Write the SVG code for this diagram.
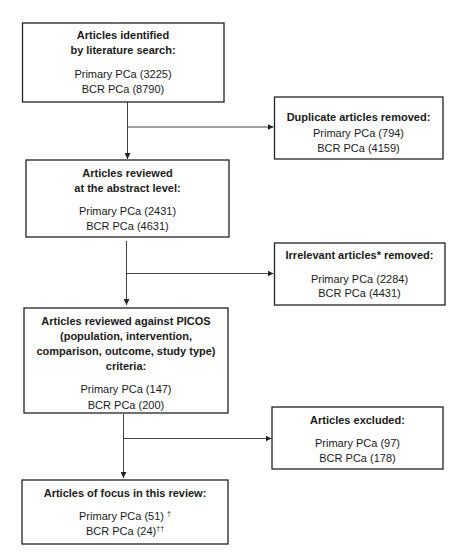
<svg xmlns="http://www.w3.org/2000/svg" width="474" height="556" viewBox="0 0 474 556">
<style>
.box{fill:#fff;stroke:#222;stroke-width:1.3}
.t{font-family:"Liberation Sans",Arial,sans-serif;font-size:11px;fill:#1a1a1a;text-anchor:middle}
.b{font-weight:bold}
.c{stroke:#444;stroke-width:1;fill:none;marker-end:url(#ah)}
.sup{font-size:7px}
</style>
<defs>
<marker id="ah" markerUnits="userSpaceOnUse" markerWidth="6" markerHeight="6" refX="6" refY="3" orient="auto">
<path d="M0,0 L6,3 L0,6 z" fill="#222"/>
</marker>
</defs>
<rect width="474" height="556" fill="#fff"/>
<g id="connectors">
<line class="c" x1="127.5" y1="102" x2="127.5" y2="159"/>
<line class="c" x1="127.5" y1="127" x2="273.5" y2="127"/>
<line class="c" x1="126.5" y1="241" x2="126.5" y2="305"/>
<line class="c" x1="126.5" y1="273.5" x2="273.5" y2="273.5"/>
<line class="c" x1="123.5" y1="414" x2="123.5" y2="478"/>
<line class="c" x1="123.5" y1="438.5" x2="271.5" y2="438.5"/>
</g>
<g id="n1">
<rect class="box" x="22.5" y="23" width="201.5" height="79"/>
<text class="t b" x="123" y="39">Articles identified</text>
<text class="t b" x="123" y="54">by literature search:</text>
<text class="t" x="123" y="78">Primary PCa (3225)</text>
<text class="t" x="123" y="93">BCR PCa (8790)</text>
</g>
<g id="n2">
<rect class="box" x="274.5" y="97" width="168.5" height="62"/>
<text class="t b" x="358.5" y="121">Duplicate articles removed:</text>
<text class="t" x="358.5" y="137">Primary PCa (794)</text>
<text class="t" x="358.5" y="152">BCR PCa (4159)</text>
</g>
<g id="n3">
<rect class="box" x="26" y="160" width="203" height="77"/>
<text class="t b" x="127.5" y="177">Articles reviewed</text>
<text class="t b" x="127.5" y="192">at the abstract level:</text>
<text class="t" x="127.5" y="215">Primary PCa (2431)</text>
<text class="t" x="127.5" y="230">BCR PCa (4631)</text>
</g>
<g id="n4">
<rect class="box" x="274.5" y="243" width="170.5" height="62"/>
<text class="t b" x="359.5" y="258.5">Irrelevant articles* removed:</text>
<text class="t" x="359.5" y="282.5">Primary PCa (2284)</text>
<text class="t" x="359.5" y="297">BCR PCa (4431)</text>
</g>
<g id="n5">
<rect class="box" x="24" y="308" width="204" height="105"/>
<text class="t b" x="126" y="324.5">Articles reviewed against PICOS</text>
<text class="t b" x="126" y="340">(population, intervention,</text>
<text class="t b" x="126" y="355">comparison, outcome, study type)</text>
<text class="t b" x="126" y="370">criteria:</text>
<text class="t" x="126" y="393">Primary PCa (147)</text>
<text class="t" x="126" y="408.5">BCR PCa (200)</text>
</g>
<g id="n6">
<rect class="box" x="272" y="407" width="171" height="62"/>
<text class="t b" x="357.5" y="423.5">Articles excluded:</text>
<text class="t" x="357.5" y="447">Primary PCa (97)</text>
<text class="t" x="357.5" y="462">BCR PCa (178)</text>
</g>
<g id="n7">
<rect class="box" x="22" y="480" width="206" height="64"/>
<text class="t b" x="125" y="497">Articles of focus in this review:</text>
<text class="t" x="125" y="519.5">Primary PCa (51) <tspan class="sup" dy="-4">†</tspan></text>
<text class="t" x="125" y="534.5">BCR PCa (24)<tspan class="sup" dy="-4">††</tspan></text>
</g>
</svg>
